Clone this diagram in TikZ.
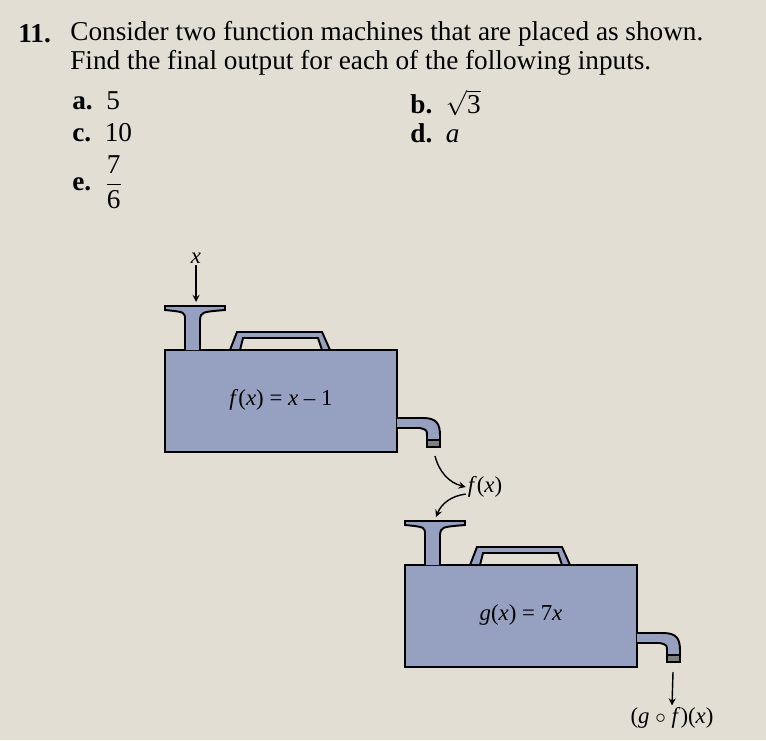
\documentclass[tikz,border=0pt]{standalone}
\usepackage{amssymb,amsmath}
\usepackage{fontspec}
\setmainfont{Liberation Serif}
\usepackage{tikz}
\usetikzlibrary{positioning}
\definecolor{paper}{RGB}{226,222,212}
\definecolor{tank}{RGB}{150,160,192}
\tikzset{
  body/.style={draw=black,fill=tank,line width=1.1pt},
  txt/.style={font=\fontsize{15.5}{17}\selectfont,anchor=west,inner sep=0pt},
  lbl/.style={font=\fontsize{13}{15}\selectfont,inner sep=1pt},
  flow/.style={->,>=stealth,line width=0.8pt}
}
\newcommand{\machinebody}{%
  \draw[body] (0,0) rectangle (232,102);
  % funnel
  \draw[body] (20,0) -- (20,-30) .. controls (20,-38) .. (0,-40) -- (0,-44) -- (60,-44)
     -- (60,-40) .. controls (36,-38) .. (35,-30) -- (35,0);
  % handle
  \draw[body] (65,0) -- (72,-18) -- (157,-18) -- (165,0) -- (157,0) -- (153,-12)
     -- (78,-12) -- (75,0) -- cycle;
  % spout
  \draw[body] (232,68) -- (258,68) .. controls (272,68) and (275,74) .. (275,86) -- (275,90)
     -- (262,90) -- (262,86) .. controls (262,80) .. (255,78) -- (232,78);
  \draw[body,fill=gray] (262,90) rectangle (275,97);
}
\begin{document}
\begin{tikzpicture}[x=0.02cm,y=-0.02cm]
  \fill[paper] (0,0) rectangle (766,740);
  \useasboundingbox (0,0) rectangle (766,740);
  % question
  \node[txt] (num) at (18,34) {\textbf{11.}};
  \node[txt] (q1) at (70,34) {Consider two function machines that are placed as shown.};
  \node[txt] (q2) at (70,63) {Find the final output for each of the following inputs.};
  \node[txt] (ia) at (72,101) {\textbf{a.}\ \ 5};
  \node[txt] (ib) at (410,103) {\textbf{b.}\ \ $\sqrt{\mbox{3}}$};
  \node[txt] (ic) at (72,133) {\textbf{c.}\ \ 10};
  \node[txt] (id) at (410,133) {\textbf{d.}\ \ \textit{a}};
  \node[txt] (ie) at (72,182) {\textbf{e.}\ \ $\dfrac{\mbox{7}}{\mbox{6}}$};
  % first machine
  \begin{scope}[shift={(165,350)}]
    \machinebody
    \node[lbl] (f) at (116,50) {\textit{f}(\textit{x}) = \textit{x} -- 1};
    \coordinate (in1) at (31,-48);
    \coordinate (out1) at (270,106);
  \end{scope}
  % second machine
  \begin{scope}[shift={(405,565)}]
    \machinebody
    \node[lbl] (g) at (116,50) {\textit{g}(\textit{x}) = 7\textit{x}};
    \coordinate (in2) at (31,-48);
    \coordinate (out2) at (268,107);
  \end{scope}
  \node[lbl] (x) at (196,258) {\textit{x}};
  \node[lbl] (fx) at (485,487) {\textit{f}(\textit{x})};
  \node[lbl] (gf) at (672,718) {(\textit{g} $\circ$ \textit{f})(\textit{x})};
  \draw[flow] (x) -- (in1);
  \draw[flow] (out1) to[bend right=30] (fx.west);
  \draw[flow] ([yshift=-4pt]fx.west) to[bend right=30] (in2);
  \draw[flow] (out2) -- (gf.north);
\end{tikzpicture}
\end{document}
